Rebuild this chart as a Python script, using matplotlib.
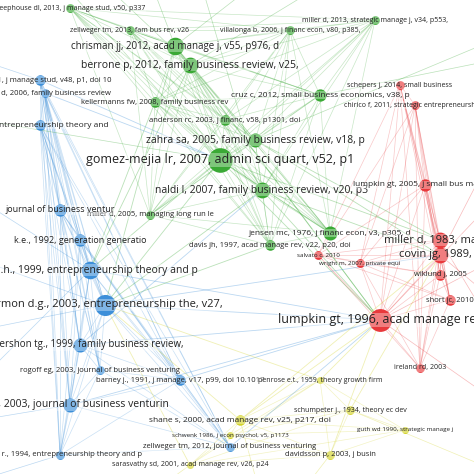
import matplotlib
matplotlib.use("Agg")
import matplotlib.pyplot as plt

colors = {"g": "#3aa935", "r": "#e8393c", "b": "#3d8fd9", "y": "#d4d42a"}

names = ["deephouse","millerd13","zellw13","villalonga","chrisman","berrone","kellermanns","anderson","cruz","zahra","gomez","naldi","millerd05","jensen","davis",
         "schepers","chirico","lumpkin05","millerd83","covin","lumpkin96","wiklund","short","ireland","wright","salvato",
         "ch11","millerd06","ent13","jbv","ke92","chua99","sirmon","habbershon","barney","rogoff","chhe","wager","zellw12",
         "penrose","schumpeter","shane","schwenk","gunn","davidsson","sarasvathy"]
xs = [70,375,130,290,175,190,155,225,320,255,220,262,150,330,270,
      400,415,425,440,440,380,440,450,420,360,318,
      40,45,40,60,80,90,105,80,180,100,70,60,230,
      320,350,240,230,405,330,190]
ys = [8,20,30,30,46,65,102,120,95,140,160,190,215,233,245,
      85,105,185,240,255,320,275,300,368,263,255,
      80,93,125,210,240,270,305,345,380,370,405,455,447,
      380,410,420,435,430,455,465]
sizes = [5,5,5,5,10,9,6,6,7,8,14,9,5,8,6,
         5,5,7,9,9,13,6,6,5,5,5,
         6,5,6,7,7,10,12,8,6,5,8,5,5,
         4,5,6,4,4,5,4]
clusters = list("ggggggggggggggg") + list("rrrrrrrrrrr") + list("bbbbbbbbbbbbb") + list("yyyyyyy")
labels = ["deephouse dl, 2013, j manage stud, v50, p337","miller d, 2013, strategic manage j, v34, p553,",
          "zellweger tm, 2013, fam bus rev, v26","villalonga b, 2006, j financ econ, v80, p385,",
          "chrisman jj, 2012, acad manage j, v55, p976, d","berrone p, 2012, family business review, v25,",
          "kellermanns fw, 2008, family business rev","anderson rc, 2003, j financ, v58, p1301, doi",
          "cruz c, 2012, small business economics, v38, p","zahra sa, 2005, family business review, v18, p",
          "gomez-mejia lr, 2007, admin sci quart, v52, p1","naldi l, 2007, family business review, v20, p3",
          "miller d, 2005, managing long run le","jensen mc, 1976, j financ econ, v3, p305, d",
          "davis jh, 1997, acad manage rev, v22, p20, doi",
          "schepers j, 2014, small business","chirico f, 2011, strategic entrepreneurship j",
          "lumpkin gt, 2005, j small bus manage","miller d, 1983, manag","covin jg, 1989, s",
          "lumpkin gt, 1996, acad manage rev","wiklund j, 2005","short jc, 2010","ireland rd, 2003",
          "wright m, 2007, private equi","salvato c, 2010",
          "ch l, 2011, j manage stud, v48, p1, doi 10","miller d, 2006, family business review",
          "2013, entrepreneurship theory and","journal of business ventur","k.e., 1992, generation generatio",
          "ua j.h., 1999, entrepreneurship theory and p","sirmon d.g., 2003, entrepreneurship the, v27,",
          "habbershon tg., 1999, family business review,","barney j., 1991, j manage, v17, p99, doi 10.1017",
          "rogoff eg, 2003, journal of business venturing","ch he, 2003, journal of business venturin",
          "wager r., 1994, entrepreneurship theory and p","zellweger tm, 2012, journal of business venturing",
          "penrose e.t., 1959, theory growth firm","schumpeter j., 1934, theory ec dev",
          "shane s, 2000, acad manage rev, v25, p217, doi","schwenk 1986, j econ psychol, v5, p1173",
          "guth wd 1990, strategic manage j","davidsson p, 2003, j busin","sarasvathy sd, 2001, acad manage rev, v26, p24"]
fonts = [5,5,5,5,7,7.5,5.5,5.5,6,7.5,9,7.5,5.5,6,5.5,
         5,5,6,8,8,9,5.5,5.5,5,4.5,4.5,
         5.5,5.5,6,6.5,6.5,7.5,8,7,5.5,5.5,7.5,5.5,5.5,
         5,5,6,4.5,4.5,5.5,5]

cross = [("gomez","sirmon"),("gomez","chua99"),("gomez","lumpkin96"),("naldi","lumpkin96"),("naldi","covin"),
         ("zahra","millerd83"),("sirmon","lumpkin96"),("chua99","lumpkin96"),("shane","lumpkin96"),
         ("shane","sirmon"),("barney","lumpkin96"),("davis","sirmon"),("jensen","gomez"),("berrone","chua99"),
         ("habbershon","naldi"),("chhe","lumpkin96"),("zellw12","lumpkin96"),("penrose","sirmon"),
         ("schumpeter","covin"),("kellermanns","chua99"),("millerd06","gomez"),("ch11","gomez"),
         ("gomez","millerd83"),("zahra","covin"),("berrone","lumpkin96"),("chrisman","sirmon"),
         ("chrisman","lumpkin96"),("naldi","sirmon"),("sirmon","covin"),("habbershon","lumpkin96"),
         ("shane","covin"),("penrose","lumpkin96"),("davidsson","lumpkin96"),("sarasvathy","sirmon")]
fans = [("chrisman",150,-20),("chrisman",260,-20),("berrone",100,-20),("berrone",330,-20),("gomez",-20,120),
        ("ch11",-20,60),("chua99",-20,200),("sirmon",-20,330),("chhe",-20,420),("wager",-20,480),
        ("lumpkin96",494,200),("lumpkin96",494,400),("covin",494,150),("millerd83",494,330),
        ("sarasvathy",150,494),("davidsson",300,494),("schumpeter",494,470),("shane",260,494),
        ("zahra",494,40),("cruz",494,60),("gomez",60,-20),("naldi",200,-20),("sirmon",-20,260),
        ("chua99",-20,380),("lumpkin96",494,260),("covin",494,300)]

idx = {n: i for i, n in enumerate(names)}
fig = plt.figure(figsize=(4.74, 4.74), dpi=100)
ax = fig.add_axes([0, 0, 1, 1])
ax.set_xlim(0, 474); ax.set_ylim(474, 0); ax.axis("off")

n_nodes = len(names)
for i in range(n_nodes):
    for j in range(i + 1, n_nodes):
        if clusters[i] == clusters[j]:
            ax.plot([xs[i], xs[j]], [ys[i], ys[j]], color=colors[clusters[i]], lw=0.5, alpha=0.28, zorder=1)
for a, b in cross:
    i, j = idx[a], idx[b]
    ax.plot([xs[i], xs[j]], [ys[i], ys[j]], color=colors[clusters[i]], lw=0.6, alpha=0.35, zorder=1)
for a, tx, ty in fans:
    i = idx[a]
    ax.plot([xs[i], tx], [ys[i], ty], color=colors[clusters[i]], lw=0.5, alpha=0.35, zorder=1)

for i in range(n_nodes):
    ax.scatter(xs[i], ys[i], s=sizes[i] ** 2 * 1.6, color=colors[clusters[i]], zorder=2, lw=0)
for i in range(n_nodes):
    ax.text(xs[i], ys[i], labels[i], fontsize=fonts[i], ha="center", va="center", color="#222222", zorder=3,
            family="Open Sans",
            bbox=dict(boxstyle="square,pad=0.05", fc="white", ec="none", alpha=0.35))
fig.savefig("out.png", dpi=100)
